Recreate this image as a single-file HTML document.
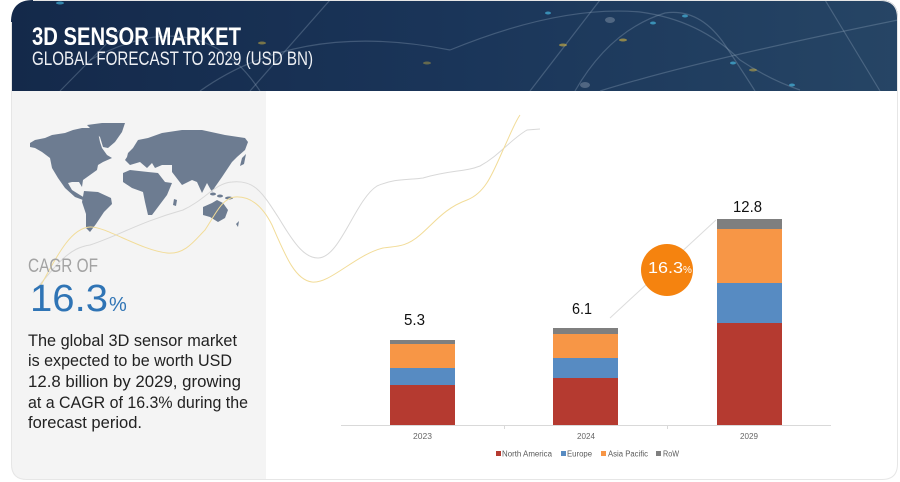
<!DOCTYPE html>
<html><head><meta charset="utf-8"><style>
html,body{margin:0;padding:0;background:#fff;width:900px;height:482px;overflow:hidden}
svg{display:block}
text{font-family:"Liberation Sans",sans-serif}
</style></head><body>
<svg width="900" height="482" viewBox="0 0 900 482" xmlns="http://www.w3.org/2000/svg">
<defs>
<clipPath id="card"><path d="M33 0 H880 Q898 0 898 18 V464 Q898 480 882 480 H27 Q11 480 11 464 V22 Q11 0 33 0 Z"/></clipPath>
<linearGradient id="hg" x1="0" y1="0" x2="1" y2="0">
<stop offset="0" stop-color="#14294a"/><stop offset="0.5" stop-color="#1a3559"/><stop offset="1" stop-color="#264565"/>
</linearGradient>
</defs>
<rect width="900" height="482" fill="#fff"/>
<g clip-path="url(#card)">
<rect x="11" y="0" width="887" height="480" fill="#fff"/>
<rect x="11" y="0" width="887" height="91" fill="url(#hg)"/>
<g fill="none" stroke="#9fb3c8" stroke-opacity="0.3" stroke-width="1.2">
<path d="M450 50 Q560 5 640 12 Q700 20 740 60 Q770 80 800 90"/>
<path d="M575 91 Q610 30 665 13 Q700 8 725 45 Q745 75 755 91"/>
<path d="M530 91 L600 0"/>
<path d="M825 0 L880 91"/>
<path d="M60 91 L120 30"/>
<path d="M250 91 L330 0"/>
<path d="M200 91 Q300 20 450 50"/>
<path d="M600 91 Q700 60 898 20"/>
<path d="M90 60 Q200 0 260 91"/>
</g>
<g>
<ellipse cx="563" cy="45" rx="4" ry="1.5" fill="#d8b840" opacity="0.6"/>
<ellipse cx="623" cy="40" rx="4" ry="1.5" fill="#d8b840" opacity="0.6"/>
<ellipse cx="753" cy="70" rx="4" ry="1.5" fill="#d8b840" opacity="0.5"/>
<ellipse cx="262" cy="43" rx="4" ry="1.5" fill="#d8b840" opacity="0.5"/>
<ellipse cx="427" cy="63" rx="4" ry="1.5" fill="#d8b840" opacity="0.4"/>
<ellipse cx="548" cy="13" rx="3" ry="1.5" fill="#4cc8f0" opacity="0.6"/>
<ellipse cx="653" cy="23" rx="3" ry="1.5" fill="#4cc8f0" opacity="0.6"/>
<ellipse cx="685" cy="16" rx="3" ry="1.5" fill="#4cc8f0" opacity="0.6"/>
<ellipse cx="733" cy="63" rx="3" ry="1.5" fill="#4cc8f0" opacity="0.6"/>
<ellipse cx="792" cy="85" rx="3" ry="1.5" fill="#4cc8f0" opacity="0.6"/>
<ellipse cx="60" cy="3" rx="4" ry="1.5" fill="#4cc8f0" opacity="0.6"/>
<ellipse cx="610" cy="20" rx="5" ry="3" fill="#c8ccd8" opacity="0.3"/>
<ellipse cx="585" cy="85" rx="5" ry="3" fill="#c8ccd8" opacity="0.3"/>
</g>
<rect x="11" y="91" width="255" height="389" fill="#f4f4f4"/>
</g>
<path d="M33 0.5 H880 Q897.5 0.5 897.5 18 V464 Q897.5 479.5 882 479.5 H27 Q11.5 479.5 11.5 464 V22" fill="none" stroke="#e6e6e6" stroke-width="1"/>

<!-- header text -->
<text x="32" y="45" font-size="25" font-weight="bold" fill="#ffffff" textLength="209" lengthAdjust="spacingAndGlyphs">3D SENSOR  MARKET</text>
<text x="32" y="65" font-size="19" fill="#eef0f4" textLength="281" lengthAdjust="spacingAndGlyphs">GLOBAL FORECAST TO 2029 (USD BN)</text>

<!-- world map -->
<g fill="#6d7c91">
<path d="M30 143 L35 140 L45 138 L52 135 L65 133 L73 130 L82 128 L92 128 L98 132 L100 142 L102 148 L107 155 L112 158 L103 162 L98 165 L97 170 L90 175 L83 180 L82 187 L79 182 L72 182 L68 183 L72 190 L80 195 L85 198 L83 200 L75 197 L65 188 L58 178 L52 168 L50 158 L42 152 L35 148 L30 147 Z"/>
<path d="M87 125 L102 123 L125 123 L122 132 L115 142 L108 148 L103 147 L100 137 L92 130 Z"/>
<path d="M84 191 L98 192 L111 198 L112 204 L104 212 L96 224 L90 232 L86 228 L86 214 L82 202 Z"/>
<path d="M125 160 L130 165 L140 162 L147 168 L152 163 L155 168 L162 165 L172 165 L172 172 L182 185 L192 180 L197 182 L202 193 L207 183 L212 192 L215 187 L222 177 L228 168 L232 162 L237 157 L245 150 L248 142 L245 138 L225 135 L202 130 L182 130 L162 133 L148 138 L138 140 L133 148 L128 153 L127 157 Z"/>
<path d="M123 173 L130 170 L148 172 L158 173 L165 182 L172 183 L167 195 L158 207 L152 215 L148 215 L145 202 L143 192 L132 188 L123 182 Z"/>
<path d="M174 199 L177 200 L176 206 L173 205 Z"/>
<path d="M203 207 L212 203 L217 200 L223 203 L228 210 L225 218 L218 222 L210 217 L203 215 Z"/>
<ellipse cx="213" cy="194" rx="3" ry="1.5"/>
<ellipse cx="220" cy="196" rx="3" ry="1.5"/>
<ellipse cx="229" cy="198" rx="4" ry="1.5"/>
<path d="M242 158 L246 154 L244 164 L240 166 Z"/>
<path d="M236 224 L239 221 L238 227 Z"/>
</g>

<!-- decorative curves -->
<g fill="none" stroke-width="1">
<path d="M33 293 C60 260 70 248 90 245 C120 235 140 222 183 210 C205 200 215 183 232 182 C255 180 262 192 280 220 C295 245 305 258 318 258 C340 258 355 200 377 186 C395 178 410 180 423 178 C450 170 465 172 480 166 C500 155 510 140 527 130 L540 129" stroke="#d8d8d8"/>
<path d="M40 287 C60 250 72 228 90 227 C105 226 140 250 167 253 C185 255 195 240 205 230 C215 215 222 198 235 197 C250 196 262 205 272 225 C285 255 295 280 312 282 C330 284 355 255 383 248 C395 246 405 248 420 235 C435 222 445 208 467 200 C485 193 492 175 503 150 C510 135 515 122 520 115" stroke="#f2dc98"/>
</g>

<!-- CAGR text -->
<text x="28" y="272" font-size="19" fill="#a3a3a3" textLength="70" lengthAdjust="spacingAndGlyphs">CAGR OF</text>
<text x="30" y="311" font-size="38" fill="#2f74b5" textLength="78" lengthAdjust="spacingAndGlyphs">16.3</text>
<text x="109" y="311" font-size="20" fill="#2f74b5">%</text>

<g font-size="16.5" fill="#222">
<text x="28" y="346" textLength="209" lengthAdjust="spacingAndGlyphs">The global 3D sensor market</text>
<text x="28" y="366" textLength="204" lengthAdjust="spacingAndGlyphs">is expected to be worth USD</text>
<text x="28" y="387" textLength="213" lengthAdjust="spacingAndGlyphs">12.8 billion by 2029, growing</text>
<text x="28" y="408" textLength="220" lengthAdjust="spacingAndGlyphs">at a CAGR of 16.3% during the</text>
<text x="28" y="428" textLength="114" lengthAdjust="spacingAndGlyphs">forecast period.</text>
</g>

<!-- chart -->
<line x1="341" y1="425.5" x2="831" y2="425.5" stroke="#d9d9d9" stroke-width="1"/>
<g stroke="#d9d9d9" stroke-width="1">
<line x1="504.5" y1="425" x2="504.5" y2="429"/>
<line x1="667.5" y1="425" x2="667.5" y2="429"/>
</g>
<!-- 2023 -->
<rect x="390" y="340" width="65" height="4" fill="#7f7f7f"/>
<rect x="390" y="344" width="65" height="24" fill="#f79646"/>
<rect x="390" y="368" width="65" height="17" fill="#578bc2"/>
<rect x="390" y="385" width="65" height="40" fill="#b53a30"/>
<!-- 2024 -->
<rect x="553" y="328" width="65" height="6" fill="#7f7f7f"/>
<rect x="553" y="334" width="65" height="24" fill="#f79646"/>
<rect x="553" y="358" width="65" height="20" fill="#578bc2"/>
<rect x="553" y="378" width="65" height="47" fill="#b53a30"/>
<!-- 2029 -->
<rect x="717" y="219" width="65" height="10" fill="#7f7f7f"/>
<rect x="717" y="229" width="65" height="54" fill="#f79646"/>
<rect x="717" y="283" width="65" height="40" fill="#578bc2"/>
<rect x="717" y="323" width="65" height="102" fill="#b53a30"/>

<line x1="610" y1="318" x2="716" y2="220" stroke="#dcdcdc" stroke-width="1"/>
<circle cx="667" cy="270" r="26" fill="#f5830f"/>
<text x="648" y="273" font-size="16" fill="#fff" textLength="35" lengthAdjust="spacingAndGlyphs">16.3</text>
<text x="683" y="273" font-size="10" fill="#fff">%</text>

<g font-size="16" fill="#111">
<text x="404" y="325" textLength="21" lengthAdjust="spacingAndGlyphs">5.3</text>
<text x="572" y="314" textLength="20" lengthAdjust="spacingAndGlyphs">6.1</text>
<text x="733" y="212" textLength="29" lengthAdjust="spacingAndGlyphs">12.8</text>
</g>

<g font-size="8.5" fill="#666">
<text x="413" y="439" textLength="19" lengthAdjust="spacingAndGlyphs">2023</text>
<text x="577" y="439" textLength="18" lengthAdjust="spacingAndGlyphs">2024</text>
<text x="740" y="439" textLength="18" lengthAdjust="spacingAndGlyphs">2029</text>
</g>

<g font-size="8" fill="#595959">
<rect x="496" y="451" width="5" height="5" fill="#b53a30"/>
<text x="502" y="456.5" textLength="50" lengthAdjust="spacingAndGlyphs">North America</text>
<rect x="561" y="451" width="5" height="5" fill="#578bc2"/>
<text x="567" y="456.5" textLength="25" lengthAdjust="spacingAndGlyphs">Europe</text>
<rect x="601" y="451" width="5" height="5" fill="#f79646"/>
<text x="608" y="456.5" textLength="40" lengthAdjust="spacingAndGlyphs">Asia Pacific</text>
<rect x="656" y="451" width="5" height="5" fill="#7f7f7f"/>
<text x="663" y="456.5" textLength="16" lengthAdjust="spacingAndGlyphs">RoW</text>
</g>
</svg>
</body></html>
